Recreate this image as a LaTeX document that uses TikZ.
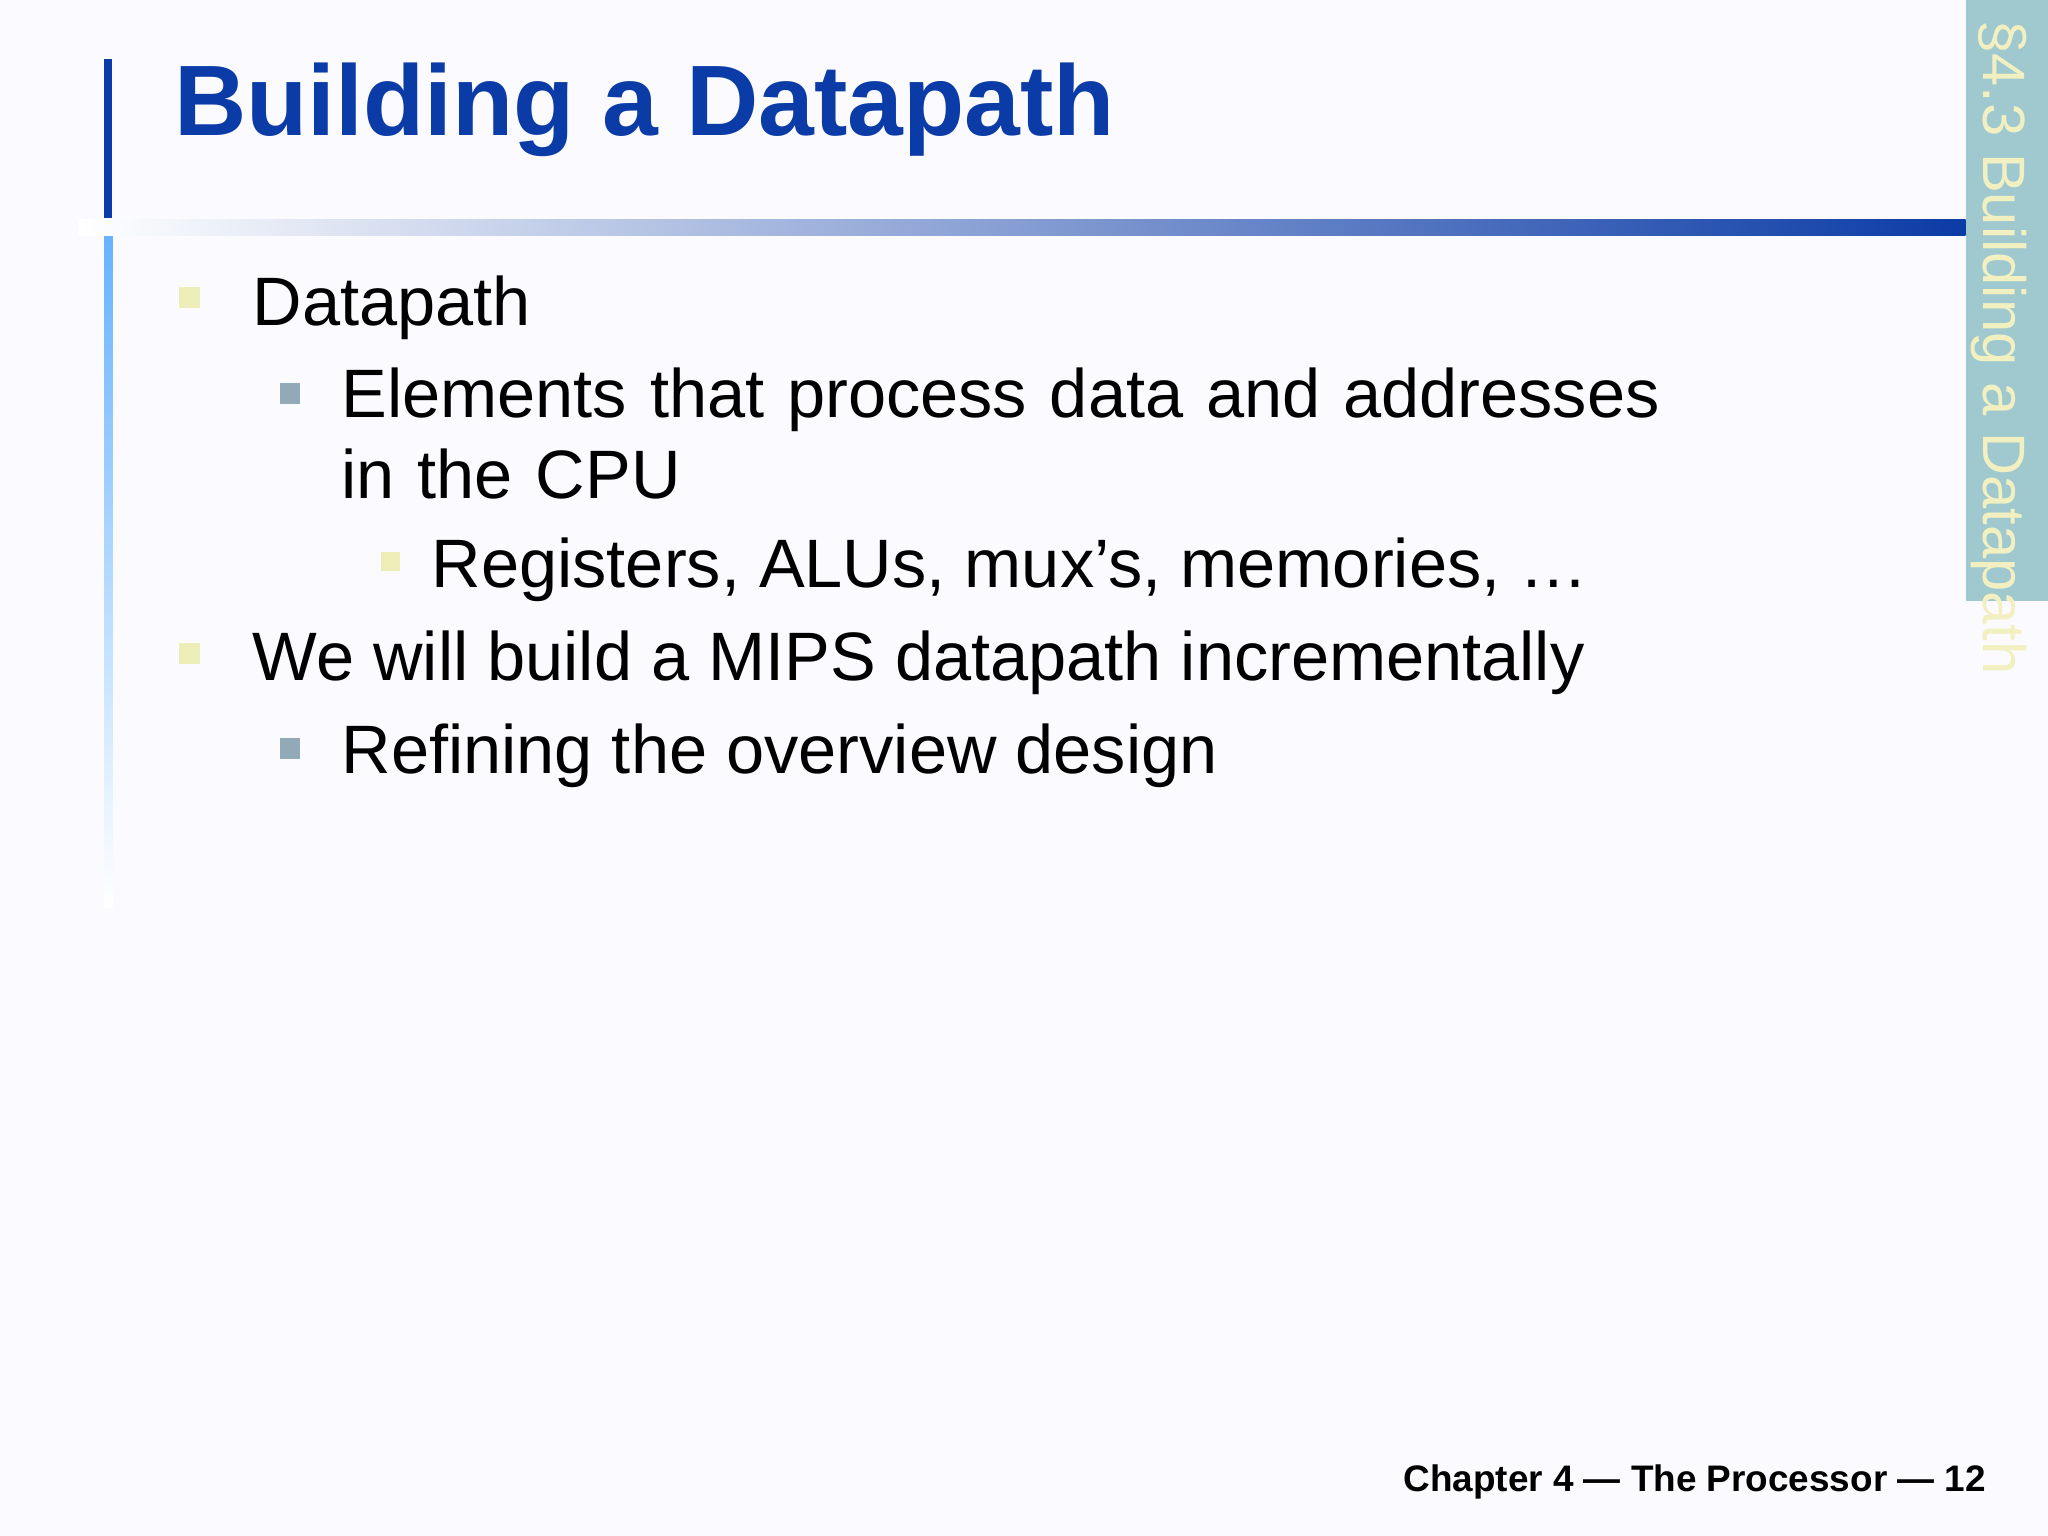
\documentclass[tikz,border=0pt]{standalone}
\usepackage{fontspec}
\setmainfont{Liberation Sans}
\definecolor{tblue}{HTML}{0B3BA6}
\definecolor{sidec}{HTML}{A0C9CF}
\definecolor{sidet}{HTML}{F2F0C0}
\definecolor{bya}{HTML}{EDEDB8}
\definecolor{byb}{HTML}{92AAB8}
\begin{document}
\begin{tikzpicture}[x=0.01306cm,y=-0.01306cm,
 body/.style={anchor=base west,inner sep=0pt,font=\fontsize{19.5}{24}\selectfont,align=left},
 sqa/.style={fill=bya,draw=none},
 sqb/.style={fill=byb,draw=none}]
\useasboundingbox (0,0) rectangle (1568,1176);
\fill[white!98!blue!] (0,0) rectangle (1568,1176);
% side tab
\fill[sidec] (1505,0) rectangle (1568,460);
\node[rotate=-90,anchor=north west,inner sep=0pt,text=sidet,font=\fontsize{17}{20}\selectfont] (side) at (1552,15) {§4.3 Building a Datapath};
% left bar
\fill[tblue] (80,45) rectangle (86,167);
\shade[top color=blue!50!cyan!60, bottom color=white] (80,180) rectangle (86,695);
% horizontal bar
\shade[left color=white, right color=tblue] (60,168) rectangle (1505,180);
% title
\node[anchor=base west,inner sep=0pt,text=tblue,font=\fontsize{28.5}{32}\selectfont\bfseries] (title) at (133,104) {Building a Datapath};
% bullets
\fill[sqa] (137,220) rectangle (153,236);
\node[body] (b1) at (193,249) {Datapath};
\fill[sqb] (214,293) rectangle (230,309);
\node[body,text width=1100] (b2) at (261,320) {Elements that process data and addresses\\[-1pt]in the CPU};
\fill[sqa] (292,423) rectangle (306,437);
\node[body] (b3) at (330,450) {Registers, ALUs, mux’s, memories, …};
\fill[sqa] (137,492) rectangle (153,508);
\node[body] (b4) at (193,521) {We will build a MIPS datapath incrementally};
\fill[sqb] (214,565) rectangle (230,581);
\node[body] (b5) at (261,592) {Refining the overview design};
% footer
\node[anchor=base east,inner sep=0pt,font=\fontsize{10.5}{12}\selectfont\bfseries] (foot) at (1521,1142) {Chapter 4 — The Processor — 12};
\end{tikzpicture}
\end{document}
